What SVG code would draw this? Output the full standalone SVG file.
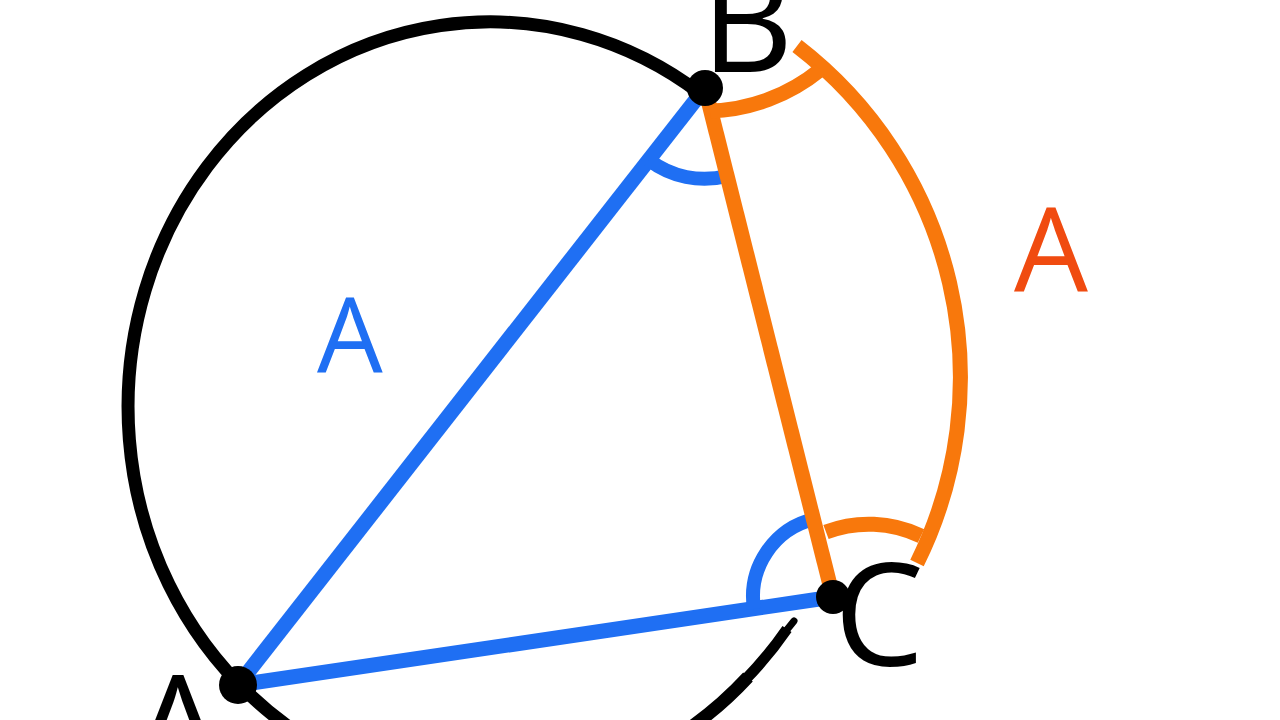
<svg xmlns="http://www.w3.org/2000/svg" width="1280" height="720" viewBox="0 0 1280 720">
<style>
.blk{fill:none;stroke:#000;stroke-width:13}
.blu{fill:none;stroke:#1f6ff3;stroke-width:15}
.bluarc{fill:none;stroke:#1f6ff3;stroke-width:14}
.org{fill:none;stroke:#f8780c;stroke-width:15}
.dot{fill:#000}
.lbl{font-family:"Open Sans","Noto Sans",sans-serif}
</style>
<rect width="1280" height="720" fill="#fff"/>
<g id="circle">
<path class="blk" d="M 701,94 A 362 385 0 1 0 748,677"/>
<path fill="none" stroke="#000" stroke-width="11" d="M 744,681 A 362 385 0 0 0 787,629"/>
<path fill="none" stroke="#000" stroke-width="7" stroke-linecap="round" d="M 785,632 A 362 385 0 0 0 794,621"/>
</g>
<g id="connectors">
<line class="blu" x1="238" y1="685" x2="705" y2="88"/>
<line class="blu" x1="238" y1="685" x2="833" y2="597"/>
<path class="bluarc" d="M 727,176 A 91 91 0 0 1 649,160"/>
<path class="bluarc" d="M 754,609 A 80 80 0 0 1 814,519"/>
<line class="org" x1="705" y1="88" x2="833" y2="597"/>
<path class="org" d="M 797,46 A 418 418 0 0 1 917,563"/>
<path class="org" d="M 710,111 A 183 183 0 0 0 820,70"/>
<path class="org" d="M 826,532 A 121 121 0 0 1 921,536"/>
</g>
<g id="node-B">
<circle class="dot" cx="705" cy="88" r="18"/>
<text class="lbl" x="701" y="72" font-size="143" fill="#000">B</text>
</g>
<g id="node-C">
<circle class="dot" cx="833" cy="597" r="17"/>
<text class="lbl" x="834" y="666" font-size="143" fill="#000">C</text>
</g>
<g id="node-A">
<circle class="dot" cx="238" cy="685" r="19"/>
<text class="lbl" x="178" y="777" font-size="143" fill="#000" text-anchor="middle">A</text>
</g>
<g id="labels">
<text class="lbl" x="350" y="373" font-size="104" fill="#1f6ff3" text-anchor="middle">A</text>
<text class="lbl" x="1051" y="292" font-size="117" fill="#f04b10" text-anchor="middle">A</text>
</g>
</svg>
